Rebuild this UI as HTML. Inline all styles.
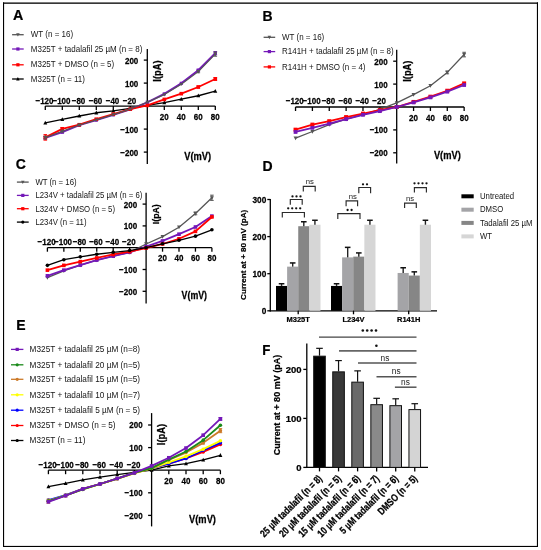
<!DOCTYPE html><html><head><meta charset="utf-8"><style>html,body{margin:0;padding:0;background:#fff;}svg{display:block;will-change:transform;}</style></head><body><svg width="541" height="550" viewBox="0 0 541 550" font-family='"Liberation Sans", sans-serif'>
<rect x="0" y="0" width="541" height="550" fill="#fff"/>
<rect x="3.00" y="2.40" width="535.00" height="1.50" fill="#222"/>
<rect x="3.00" y="2.40" width="1.10" height="544.60" fill="#000"/>
<rect x="536.90" y="2.40" width="1.10" height="544.60" fill="#000"/>
<rect x="3.00" y="545.90" width="535.00" height="1.10" fill="#000"/>
<text transform="translate(12.90 20.20) scale(1 1.06)" font-size="14.3" font-weight="bold" text-anchor="start" fill="#000" stroke="#000" stroke-width="0.22">A</text>
<text transform="translate(262.50 20.80) scale(1 1.08)" font-size="14" font-weight="bold" text-anchor="start" fill="#000" stroke="#000" stroke-width="0.22">B</text>
<text transform="translate(15.70 168.60) scale(1 1.08)" font-size="14" font-weight="bold" text-anchor="start" fill="#000" stroke="#000" stroke-width="0.22">C</text>
<text transform="translate(262.50 170.60) scale(1 1.08)" font-size="14" font-weight="bold" text-anchor="start" fill="#000" stroke="#000" stroke-width="0.22">D</text>
<text transform="translate(16.20 330.00) scale(1 1.08)" font-size="14" font-weight="bold" text-anchor="start" fill="#000" stroke="#000" stroke-width="0.22">E</text>
<text transform="translate(262.30 354.80) scale(1 1.12)" font-size="13.3" font-weight="bold" text-anchor="start" fill="#000" stroke="#000" stroke-width="0.22">F</text>
<line x1="12.10" y1="34.70" x2="23.70" y2="34.70" stroke="#555555" stroke-width="1.3"/>
<path d="M16.14,33.26 L19.66,33.26 L17.90,36.62Z" fill="#555555"/>
<text transform="translate(30.80 37.30) scale(1 1.12)" font-size="8" font-weight="normal" text-anchor="start" fill="#151515">WT (n = 16)</text>
<line x1="12.10" y1="49.00" x2="23.70" y2="49.00" stroke="#7418b8" stroke-width="1.3"/>
<rect x="16.30" y="47.40" width="3.20" height="3.20" fill="#7418b8"/>
<text transform="translate(30.80 51.60) scale(1 1.12)" font-size="8" font-weight="normal" text-anchor="start" fill="#151515">M325T + tadalafil 25 µM (n = 8)</text>
<line x1="12.10" y1="64.80" x2="23.70" y2="64.80" stroke="#ff0000" stroke-width="1.3"/>
<rect x="16.30" y="63.20" width="3.20" height="3.20" fill="#ff0000"/>
<text transform="translate(30.80 67.40) scale(1 1.12)" font-size="8" font-weight="normal" text-anchor="start" fill="#151515">M325T + DMSO (n = 5)</text>
<line x1="12.10" y1="79.00" x2="23.70" y2="79.00" stroke="#000000" stroke-width="1.3"/>
<path d="M16.14,80.44 L19.66,80.44 L17.90,77.08Z" fill="#000000"/>
<text transform="translate(30.80 81.60) scale(1 1.12)" font-size="8" font-weight="normal" text-anchor="start" fill="#151515">M325T (n = 11)</text>
<line x1="147.30" y1="49.00" x2="147.30" y2="164.00" stroke="#000" stroke-width="1.3"/>
<line x1="45.30" y1="106.10" x2="215.30" y2="106.10" stroke="#000" stroke-width="1.3"/>
<line x1="45.30" y1="106.10" x2="45.30" y2="110.10" stroke="#000" stroke-width="1.3"/>
<text transform="translate(44.50 103.50) scale(1 1.2)" font-size="8" font-weight="bold" text-anchor="middle" fill="#000" stroke="#000" stroke-width="0.22">−120</text>
<line x1="62.30" y1="106.10" x2="62.30" y2="110.10" stroke="#000" stroke-width="1.3"/>
<text transform="translate(61.50 103.50) scale(1 1.2)" font-size="8" font-weight="bold" text-anchor="middle" fill="#000" stroke="#000" stroke-width="0.22">−100</text>
<line x1="79.30" y1="106.10" x2="79.30" y2="110.10" stroke="#000" stroke-width="1.3"/>
<text transform="translate(78.50 103.50) scale(1 1.2)" font-size="8" font-weight="bold" text-anchor="middle" fill="#000" stroke="#000" stroke-width="0.22">−80</text>
<line x1="96.30" y1="106.10" x2="96.30" y2="110.10" stroke="#000" stroke-width="1.3"/>
<text transform="translate(95.50 103.50) scale(1 1.2)" font-size="8" font-weight="bold" text-anchor="middle" fill="#000" stroke="#000" stroke-width="0.22">−60</text>
<line x1="113.30" y1="106.10" x2="113.30" y2="110.10" stroke="#000" stroke-width="1.3"/>
<text transform="translate(112.50 103.50) scale(1 1.2)" font-size="8" font-weight="bold" text-anchor="middle" fill="#000" stroke="#000" stroke-width="0.22">−40</text>
<line x1="130.30" y1="106.10" x2="130.30" y2="110.10" stroke="#000" stroke-width="1.3"/>
<text transform="translate(129.50 103.50) scale(1 1.2)" font-size="8" font-weight="bold" text-anchor="middle" fill="#000" stroke="#000" stroke-width="0.22">−20</text>
<line x1="164.30" y1="106.10" x2="164.30" y2="110.10" stroke="#000" stroke-width="1.3"/>
<text transform="translate(164.30 119.80) scale(1 1.2)" font-size="8" font-weight="bold" text-anchor="middle" fill="#000" stroke="#000" stroke-width="0.22">20</text>
<line x1="181.30" y1="106.10" x2="181.30" y2="110.10" stroke="#000" stroke-width="1.3"/>
<text transform="translate(181.30 119.80) scale(1 1.2)" font-size="8" font-weight="bold" text-anchor="middle" fill="#000" stroke="#000" stroke-width="0.22">40</text>
<line x1="198.30" y1="106.10" x2="198.30" y2="110.10" stroke="#000" stroke-width="1.3"/>
<text transform="translate(198.30 119.80) scale(1 1.2)" font-size="8" font-weight="bold" text-anchor="middle" fill="#000" stroke="#000" stroke-width="0.22">60</text>
<line x1="215.30" y1="106.10" x2="215.30" y2="110.10" stroke="#000" stroke-width="1.3"/>
<text transform="translate(215.30 119.80) scale(1 1.2)" font-size="8" font-weight="bold" text-anchor="middle" fill="#000" stroke="#000" stroke-width="0.22">80</text>
<line x1="143.80" y1="60.10" x2="147.30" y2="60.10" stroke="#000" stroke-width="1.3"/>
<text transform="translate(138.30 63.50) scale(1 1.2)" font-size="8" font-weight="bold" text-anchor="end" fill="#000" stroke="#000" stroke-width="0.22">200</text>
<line x1="143.80" y1="83.10" x2="147.30" y2="83.10" stroke="#000" stroke-width="1.3"/>
<text transform="translate(138.30 86.50) scale(1 1.2)" font-size="8" font-weight="bold" text-anchor="end" fill="#000" stroke="#000" stroke-width="0.22">100</text>
<line x1="143.80" y1="129.10" x2="147.30" y2="129.10" stroke="#000" stroke-width="1.3"/>
<text transform="translate(138.30 132.50) scale(1 1.2)" font-size="8" font-weight="bold" text-anchor="end" fill="#000" stroke="#000" stroke-width="0.22">−100</text>
<line x1="143.80" y1="152.10" x2="147.30" y2="152.10" stroke="#000" stroke-width="1.3"/>
<text transform="translate(138.30 155.50) scale(1 1.2)" font-size="8" font-weight="bold" text-anchor="end" fill="#000" stroke="#000" stroke-width="0.22">−200</text>
<text transform="translate(160.50 71.10) rotate(-90) scale(1 1.12)" font-size="9.3" font-weight="bold" text-anchor="middle" fill="#000" stroke="#000" stroke-width="0.22">I(pA)</text>
<text transform="translate(197.70 159.90) scale(1 1.2)" font-size="9.3" font-weight="bold" text-anchor="middle" fill="#000" stroke="#000" stroke-width="0.22">V(mV)</text>
<path d="M45.30,122.89 L62.30,119.44 L79.30,115.99 L96.30,112.77 L113.30,110.93 L130.30,108.40 L147.30,105.41 L164.30,102.65 L181.30,99.20 L198.30,95.75 L215.30,91.15" fill="none" stroke="#000000" stroke-width="1.3" stroke-linejoin="round"/>
<path d="M43.32,124.51 L47.28,124.51 L45.30,120.73Z" fill="#000000"/>
<path d="M60.32,121.06 L64.28,121.06 L62.30,117.28Z" fill="#000000"/>
<path d="M77.32,117.61 L81.28,117.61 L79.30,113.83Z" fill="#000000"/>
<path d="M94.32,114.39 L98.28,114.39 L96.30,110.61Z" fill="#000000"/>
<path d="M111.32,112.55 L115.28,112.55 L113.30,108.77Z" fill="#000000"/>
<path d="M128.32,110.02 L132.28,110.02 L130.30,106.24Z" fill="#000000"/>
<path d="M145.32,107.03 L149.28,107.03 L147.30,103.25Z" fill="#000000"/>
<path d="M162.32,104.27 L166.28,104.27 L164.30,100.49Z" fill="#000000"/>
<path d="M179.32,100.82 L183.28,100.82 L181.30,97.04Z" fill="#000000"/>
<path d="M196.32,97.37 L200.28,97.37 L198.30,93.59Z" fill="#000000"/>
<path d="M213.32,92.77 L217.28,92.77 L215.30,88.99Z" fill="#000000"/>
<path d="M45.30,137.84 L62.30,132.09 L79.30,125.19 L96.30,120.13 L113.30,114.84 L130.30,109.32 L147.30,102.42 L164.30,93.91 L181.30,83.33 L198.30,70.22 L215.30,53.20" fill="none" stroke="#7418b8" stroke-width="1.9" stroke-linejoin="round"/>
<line x1="45.30" y1="136.69" x2="45.30" y2="138.99" stroke="#7418b8" stroke-width="1"/>
<line x1="43.50" y1="136.69" x2="47.10" y2="136.69" stroke="#7418b8" stroke-width="1"/>
<line x1="43.50" y1="138.99" x2="47.10" y2="138.99" stroke="#7418b8" stroke-width="1"/>
<rect x="43.70" y="136.24" width="3.20" height="3.20" fill="#7418b8"/>
<line x1="62.30" y1="131.17" x2="62.30" y2="133.01" stroke="#7418b8" stroke-width="1"/>
<line x1="60.50" y1="131.17" x2="64.10" y2="131.17" stroke="#7418b8" stroke-width="1"/>
<line x1="60.50" y1="133.01" x2="64.10" y2="133.01" stroke="#7418b8" stroke-width="1"/>
<rect x="60.70" y="130.49" width="3.20" height="3.20" fill="#7418b8"/>
<line x1="79.30" y1="124.50" x2="79.30" y2="125.88" stroke="#7418b8" stroke-width="1"/>
<line x1="77.50" y1="124.50" x2="81.10" y2="124.50" stroke="#7418b8" stroke-width="1"/>
<line x1="77.50" y1="125.88" x2="81.10" y2="125.88" stroke="#7418b8" stroke-width="1"/>
<rect x="77.70" y="123.59" width="3.20" height="3.20" fill="#7418b8"/>
<rect x="94.70" y="118.53" width="3.20" height="3.20" fill="#7418b8"/>
<rect x="111.70" y="113.24" width="3.20" height="3.20" fill="#7418b8"/>
<rect x="128.70" y="107.72" width="3.20" height="3.20" fill="#7418b8"/>
<rect x="145.70" y="100.82" width="3.20" height="3.20" fill="#7418b8"/>
<rect x="162.70" y="92.31" width="3.20" height="3.20" fill="#7418b8"/>
<rect x="179.70" y="81.73" width="3.20" height="3.20" fill="#7418b8"/>
<line x1="198.30" y1="69.30" x2="198.30" y2="71.14" stroke="#7418b8" stroke-width="1"/>
<line x1="196.50" y1="69.30" x2="200.10" y2="69.30" stroke="#7418b8" stroke-width="1"/>
<line x1="196.50" y1="71.14" x2="200.10" y2="71.14" stroke="#7418b8" stroke-width="1"/>
<rect x="196.70" y="68.62" width="3.20" height="3.20" fill="#7418b8"/>
<line x1="215.30" y1="51.59" x2="215.30" y2="54.81" stroke="#7418b8" stroke-width="1"/>
<line x1="213.50" y1="51.59" x2="217.10" y2="51.59" stroke="#7418b8" stroke-width="1"/>
<line x1="213.50" y1="54.81" x2="217.10" y2="54.81" stroke="#7418b8" stroke-width="1"/>
<rect x="213.70" y="51.60" width="3.20" height="3.20" fill="#7418b8"/>
<path d="M45.30,137.38 L62.30,128.87 L79.30,124.73 L96.30,119.21 L113.30,114.15 L130.30,109.09 L147.30,105.41 L164.30,99.43 L181.30,93.68 L198.30,87.01 L215.30,78.96" fill="none" stroke="#ff0000" stroke-width="1.8" stroke-linejoin="round"/>
<line x1="45.30" y1="134.62" x2="45.30" y2="140.14" stroke="#ff0000" stroke-width="1"/>
<line x1="43.50" y1="134.62" x2="47.10" y2="134.62" stroke="#ff0000" stroke-width="1"/>
<line x1="43.50" y1="140.14" x2="47.10" y2="140.14" stroke="#ff0000" stroke-width="1"/>
<rect x="43.50" y="135.58" width="3.60" height="3.60" fill="#ff0000"/>
<line x1="62.30" y1="127.49" x2="62.30" y2="130.25" stroke="#ff0000" stroke-width="1"/>
<line x1="60.50" y1="127.49" x2="64.10" y2="127.49" stroke="#ff0000" stroke-width="1"/>
<line x1="60.50" y1="130.25" x2="64.10" y2="130.25" stroke="#ff0000" stroke-width="1"/>
<rect x="60.50" y="127.07" width="3.60" height="3.60" fill="#ff0000"/>
<rect x="77.50" y="122.93" width="3.60" height="3.60" fill="#ff0000"/>
<rect x="94.50" y="117.41" width="3.60" height="3.60" fill="#ff0000"/>
<rect x="111.50" y="112.35" width="3.60" height="3.60" fill="#ff0000"/>
<rect x="128.50" y="107.29" width="3.60" height="3.60" fill="#ff0000"/>
<rect x="145.50" y="103.61" width="3.60" height="3.60" fill="#ff0000"/>
<rect x="162.50" y="97.63" width="3.60" height="3.60" fill="#ff0000"/>
<rect x="179.50" y="91.88" width="3.60" height="3.60" fill="#ff0000"/>
<line x1="198.30" y1="86.09" x2="198.30" y2="87.93" stroke="#ff0000" stroke-width="1"/>
<line x1="196.50" y1="86.09" x2="200.10" y2="86.09" stroke="#ff0000" stroke-width="1"/>
<line x1="196.50" y1="87.93" x2="200.10" y2="87.93" stroke="#ff0000" stroke-width="1"/>
<rect x="196.50" y="85.21" width="3.60" height="3.60" fill="#ff0000"/>
<line x1="215.30" y1="77.58" x2="215.30" y2="80.34" stroke="#ff0000" stroke-width="1"/>
<line x1="213.50" y1="77.58" x2="217.10" y2="77.58" stroke="#ff0000" stroke-width="1"/>
<line x1="213.50" y1="80.34" x2="217.10" y2="80.34" stroke="#ff0000" stroke-width="1"/>
<rect x="213.50" y="77.16" width="3.60" height="3.60" fill="#ff0000"/>
<path d="M45.30,137.61 L62.30,131.17 L79.30,124.96 L96.30,119.90 L113.30,114.61 L130.30,109.09 L147.30,102.19 L164.30,94.60 L181.30,84.25 L198.30,71.60 L215.30,54.12" fill="none" stroke="#555555" stroke-width="1.15" stroke-linejoin="round"/>
<line x1="45.30" y1="136.23" x2="45.30" y2="138.99" stroke="#555555" stroke-width="1"/>
<line x1="43.50" y1="136.23" x2="47.10" y2="136.23" stroke="#555555" stroke-width="1"/>
<line x1="43.50" y1="138.99" x2="47.10" y2="138.99" stroke="#555555" stroke-width="1"/>
<path d="M43.65,136.26 L46.95,136.26 L45.30,139.41Z" fill="#555555"/>
<line x1="62.30" y1="130.25" x2="62.30" y2="132.09" stroke="#555555" stroke-width="1"/>
<line x1="60.50" y1="130.25" x2="64.10" y2="130.25" stroke="#555555" stroke-width="1"/>
<line x1="60.50" y1="132.09" x2="64.10" y2="132.09" stroke="#555555" stroke-width="1"/>
<path d="M60.65,129.82 L63.95,129.82 L62.30,132.97Z" fill="#555555"/>
<line x1="79.30" y1="124.27" x2="79.30" y2="125.65" stroke="#555555" stroke-width="1"/>
<line x1="77.50" y1="124.27" x2="81.10" y2="124.27" stroke="#555555" stroke-width="1"/>
<line x1="77.50" y1="125.65" x2="81.10" y2="125.65" stroke="#555555" stroke-width="1"/>
<path d="M77.65,123.61 L80.95,123.61 L79.30,126.76Z" fill="#555555"/>
<path d="M94.65,118.55 L97.95,118.55 L96.30,121.70Z" fill="#555555"/>
<path d="M111.65,113.26 L114.95,113.26 L113.30,116.41Z" fill="#555555"/>
<path d="M128.65,107.74 L131.95,107.74 L130.30,110.89Z" fill="#555555"/>
<path d="M145.65,100.84 L148.95,100.84 L147.30,103.99Z" fill="#555555"/>
<path d="M162.65,93.25 L165.95,93.25 L164.30,96.40Z" fill="#555555"/>
<path d="M179.65,82.90 L182.95,82.90 L181.30,86.05Z" fill="#555555"/>
<line x1="198.30" y1="70.45" x2="198.30" y2="72.75" stroke="#555555" stroke-width="1"/>
<line x1="196.50" y1="70.45" x2="200.10" y2="70.45" stroke="#555555" stroke-width="1"/>
<line x1="196.50" y1="72.75" x2="200.10" y2="72.75" stroke="#555555" stroke-width="1"/>
<path d="M196.65,70.25 L199.95,70.25 L198.30,73.40Z" fill="#555555"/>
<line x1="215.30" y1="52.05" x2="215.30" y2="56.19" stroke="#555555" stroke-width="1"/>
<line x1="213.50" y1="52.05" x2="217.10" y2="52.05" stroke="#555555" stroke-width="1"/>
<line x1="213.50" y1="56.19" x2="217.10" y2="56.19" stroke="#555555" stroke-width="1"/>
<path d="M213.65,52.77 L216.95,52.77 L215.30,55.92Z" fill="#555555"/>
<line x1="263.60" y1="37.30" x2="275.20" y2="37.30" stroke="#555555" stroke-width="1.3"/>
<path d="M267.64,35.86 L271.16,35.86 L269.40,39.22Z" fill="#555555"/>
<text transform="translate(282.00 39.90) scale(1 1.12)" font-size="8" font-weight="normal" text-anchor="start" fill="#151515">WT (n = 16)</text>
<line x1="263.60" y1="51.60" x2="275.20" y2="51.60" stroke="#7418b8" stroke-width="1.3"/>
<rect x="267.80" y="50.00" width="3.20" height="3.20" fill="#7418b8"/>
<text transform="translate(282.00 54.20) scale(1 1.12)" font-size="8" font-weight="normal" text-anchor="start" fill="#151515">R141H + tadalafil 25 µM (n = 8)</text>
<line x1="263.60" y1="66.90" x2="275.20" y2="66.90" stroke="#ff0000" stroke-width="1.3"/>
<rect x="267.80" y="65.30" width="3.20" height="3.20" fill="#ff0000"/>
<text transform="translate(282.00 69.50) scale(1 1.12)" font-size="8" font-weight="normal" text-anchor="start" fill="#151515">R141H + DMSO (n = 4)</text>
<line x1="396.70" y1="49.80" x2="396.70" y2="163.60" stroke="#000" stroke-width="1.3"/>
<line x1="295.54" y1="107.00" x2="464.14" y2="107.00" stroke="#000" stroke-width="1.3"/>
<line x1="295.54" y1="107.00" x2="295.54" y2="111.00" stroke="#000" stroke-width="1.3"/>
<text transform="translate(294.74 104.40) scale(1 1.2)" font-size="8" font-weight="bold" text-anchor="middle" fill="#000" stroke="#000" stroke-width="0.22">−120</text>
<line x1="312.40" y1="107.00" x2="312.40" y2="111.00" stroke="#000" stroke-width="1.3"/>
<text transform="translate(311.60 104.40) scale(1 1.2)" font-size="8" font-weight="bold" text-anchor="middle" fill="#000" stroke="#000" stroke-width="0.22">−100</text>
<line x1="329.26" y1="107.00" x2="329.26" y2="111.00" stroke="#000" stroke-width="1.3"/>
<text transform="translate(328.46 104.40) scale(1 1.2)" font-size="8" font-weight="bold" text-anchor="middle" fill="#000" stroke="#000" stroke-width="0.22">−80</text>
<line x1="346.12" y1="107.00" x2="346.12" y2="111.00" stroke="#000" stroke-width="1.3"/>
<text transform="translate(345.32 104.40) scale(1 1.2)" font-size="8" font-weight="bold" text-anchor="middle" fill="#000" stroke="#000" stroke-width="0.22">−60</text>
<line x1="362.98" y1="107.00" x2="362.98" y2="111.00" stroke="#000" stroke-width="1.3"/>
<text transform="translate(362.18 104.40) scale(1 1.2)" font-size="8" font-weight="bold" text-anchor="middle" fill="#000" stroke="#000" stroke-width="0.22">−40</text>
<line x1="379.84" y1="107.00" x2="379.84" y2="111.00" stroke="#000" stroke-width="1.3"/>
<text transform="translate(379.04 104.40) scale(1 1.2)" font-size="8" font-weight="bold" text-anchor="middle" fill="#000" stroke="#000" stroke-width="0.22">−20</text>
<line x1="413.56" y1="107.00" x2="413.56" y2="111.00" stroke="#000" stroke-width="1.3"/>
<text transform="translate(413.56 120.70) scale(1 1.2)" font-size="8" font-weight="bold" text-anchor="middle" fill="#000" stroke="#000" stroke-width="0.22">20</text>
<line x1="430.42" y1="107.00" x2="430.42" y2="111.00" stroke="#000" stroke-width="1.3"/>
<text transform="translate(430.42 120.70) scale(1 1.2)" font-size="8" font-weight="bold" text-anchor="middle" fill="#000" stroke="#000" stroke-width="0.22">40</text>
<line x1="447.28" y1="107.00" x2="447.28" y2="111.00" stroke="#000" stroke-width="1.3"/>
<text transform="translate(447.28 120.70) scale(1 1.2)" font-size="8" font-weight="bold" text-anchor="middle" fill="#000" stroke="#000" stroke-width="0.22">60</text>
<line x1="464.14" y1="107.00" x2="464.14" y2="111.00" stroke="#000" stroke-width="1.3"/>
<text transform="translate(464.14 120.70) scale(1 1.2)" font-size="8" font-weight="bold" text-anchor="middle" fill="#000" stroke="#000" stroke-width="0.22">80</text>
<line x1="393.20" y1="61.20" x2="396.70" y2="61.20" stroke="#000" stroke-width="1.3"/>
<text transform="translate(387.70 64.60) scale(1 1.2)" font-size="8" font-weight="bold" text-anchor="end" fill="#000" stroke="#000" stroke-width="0.22">200</text>
<line x1="393.20" y1="84.10" x2="396.70" y2="84.10" stroke="#000" stroke-width="1.3"/>
<text transform="translate(387.70 87.50) scale(1 1.2)" font-size="8" font-weight="bold" text-anchor="end" fill="#000" stroke="#000" stroke-width="0.22">100</text>
<line x1="393.20" y1="129.90" x2="396.70" y2="129.90" stroke="#000" stroke-width="1.3"/>
<text transform="translate(387.70 133.30) scale(1 1.2)" font-size="8" font-weight="bold" text-anchor="end" fill="#000" stroke="#000" stroke-width="0.22">−100</text>
<line x1="393.20" y1="152.80" x2="396.70" y2="152.80" stroke="#000" stroke-width="1.3"/>
<text transform="translate(387.70 156.20) scale(1 1.2)" font-size="8" font-weight="bold" text-anchor="end" fill="#000" stroke="#000" stroke-width="0.22">−200</text>
<text transform="translate(411.30 71.20) rotate(-90) scale(1 1.12)" font-size="9.3" font-weight="bold" text-anchor="middle" fill="#000" stroke="#000" stroke-width="0.22">I(pA)</text>
<text transform="translate(447.30 159.10) scale(1 1.2)" font-size="9.3" font-weight="bold" text-anchor="middle" fill="#000" stroke="#000" stroke-width="0.22">V(mV)</text>
<path d="M295.54,138.14 L312.40,131.50 L329.26,124.63 L346.12,119.14 L362.98,114.56 L379.84,109.29 L396.70,102.88 L413.56,94.63 L430.42,85.70 L447.28,72.42 L464.14,54.56" fill="none" stroke="#555555" stroke-width="1.3" stroke-linejoin="round"/>
<path d="M293.56,136.52 L297.52,136.52 L295.54,140.30Z" fill="#555555"/>
<path d="M310.42,129.88 L314.38,129.88 L312.40,133.66Z" fill="#555555"/>
<path d="M327.28,123.01 L331.24,123.01 L329.26,126.79Z" fill="#555555"/>
<path d="M344.14,117.52 L348.10,117.52 L346.12,121.30Z" fill="#555555"/>
<path d="M361.00,112.94 L364.96,112.94 L362.98,116.72Z" fill="#555555"/>
<path d="M377.86,107.67 L381.82,107.67 L379.84,111.45Z" fill="#555555"/>
<path d="M394.72,101.26 L398.68,101.26 L396.70,105.04Z" fill="#555555"/>
<path d="M411.58,93.01 L415.54,93.01 L413.56,96.79Z" fill="#555555"/>
<path d="M428.44,84.08 L432.40,84.08 L430.42,87.86Z" fill="#555555"/>
<line x1="447.28" y1="71.05" x2="447.28" y2="73.79" stroke="#555555" stroke-width="1"/>
<line x1="445.48" y1="71.05" x2="449.08" y2="71.05" stroke="#555555" stroke-width="1"/>
<line x1="445.48" y1="73.79" x2="449.08" y2="73.79" stroke="#555555" stroke-width="1"/>
<path d="M445.30,70.80 L449.26,70.80 L447.28,74.58Z" fill="#555555"/>
<line x1="464.14" y1="52.27" x2="464.14" y2="56.85" stroke="#555555" stroke-width="1"/>
<line x1="462.34" y1="52.27" x2="465.94" y2="52.27" stroke="#555555" stroke-width="1"/>
<line x1="462.34" y1="56.85" x2="465.94" y2="56.85" stroke="#555555" stroke-width="1"/>
<path d="M462.16,52.94 L466.12,52.94 L464.14,56.72Z" fill="#555555"/>
<path d="M295.54,129.67 L312.40,124.63 L329.26,121.20 L346.12,117.08 L362.98,113.64 L379.84,110.21 L396.70,107.00 L413.56,101.96 L430.42,96.69 L447.28,90.74 L464.14,83.41" fill="none" stroke="#ff0000" stroke-width="1.8" stroke-linejoin="round"/>
<rect x="293.54" y="127.67" width="4.00" height="4.00" fill="#ff0000"/>
<rect x="310.40" y="122.63" width="4.00" height="4.00" fill="#ff0000"/>
<rect x="327.26" y="119.20" width="4.00" height="4.00" fill="#ff0000"/>
<rect x="344.12" y="115.08" width="4.00" height="4.00" fill="#ff0000"/>
<rect x="360.98" y="111.64" width="4.00" height="4.00" fill="#ff0000"/>
<rect x="377.84" y="108.21" width="4.00" height="4.00" fill="#ff0000"/>
<rect x="394.70" y="105.00" width="4.00" height="4.00" fill="#ff0000"/>
<rect x="411.56" y="99.96" width="4.00" height="4.00" fill="#ff0000"/>
<rect x="428.42" y="94.69" width="4.00" height="4.00" fill="#ff0000"/>
<rect x="445.28" y="88.74" width="4.00" height="4.00" fill="#ff0000"/>
<rect x="462.14" y="81.41" width="4.00" height="4.00" fill="#ff0000"/>
<path d="M295.54,131.96 L312.40,127.84 L329.26,123.72 L346.12,119.14 L362.98,114.79 L379.84,111.12 L396.70,107.00 L413.56,102.42 L430.42,97.38 L447.28,91.66 L464.14,85.02" fill="none" stroke="#7418b8" stroke-width="1.8" stroke-linejoin="round"/>
<rect x="293.64" y="130.06" width="3.80" height="3.80" fill="#7418b8"/>
<rect x="310.50" y="125.94" width="3.80" height="3.80" fill="#7418b8"/>
<rect x="327.36" y="121.82" width="3.80" height="3.80" fill="#7418b8"/>
<rect x="344.22" y="117.24" width="3.80" height="3.80" fill="#7418b8"/>
<rect x="361.08" y="112.89" width="3.80" height="3.80" fill="#7418b8"/>
<rect x="377.94" y="109.22" width="3.80" height="3.80" fill="#7418b8"/>
<rect x="394.80" y="105.10" width="3.80" height="3.80" fill="#7418b8"/>
<rect x="411.66" y="100.52" width="3.80" height="3.80" fill="#7418b8"/>
<rect x="428.52" y="95.48" width="3.80" height="3.80" fill="#7418b8"/>
<rect x="445.38" y="89.76" width="3.80" height="3.80" fill="#7418b8"/>
<rect x="462.24" y="83.12" width="3.80" height="3.80" fill="#7418b8"/>
<line x1="16.90" y1="182.10" x2="28.70" y2="182.10" stroke="#555555" stroke-width="1.3"/>
<path d="M21.04,180.66 L24.56,180.66 L22.80,184.02Z" fill="#555555"/>
<text transform="translate(35.40 185.00) scale(1 1.12)" font-size="7.8" font-weight="normal" text-anchor="start" fill="#151515">WT (n = 16)</text>
<line x1="16.90" y1="195.40" x2="28.70" y2="195.40" stroke="#7418b8" stroke-width="1.3"/>
<rect x="21.20" y="193.80" width="3.20" height="3.20" fill="#7418b8"/>
<text transform="translate(35.40 198.30) scale(1 1.12)" font-size="7.8" font-weight="normal" text-anchor="start" fill="#151515">L234V + tadalafil 25 µM (n = 6)</text>
<line x1="16.90" y1="208.70" x2="28.70" y2="208.70" stroke="#ff0000" stroke-width="1.3"/>
<rect x="21.20" y="207.10" width="3.20" height="3.20" fill="#ff0000"/>
<text transform="translate(35.40 211.60) scale(1 1.12)" font-size="7.8" font-weight="normal" text-anchor="start" fill="#151515">L324V + DMSO (n = 5)</text>
<line x1="16.90" y1="222.10" x2="28.70" y2="222.10" stroke="#000000" stroke-width="1.3"/>
<circle cx="22.80" cy="222.10" r="1.60" fill="#000000"/>
<text transform="translate(35.40 225.00) scale(1 1.12)" font-size="7.8" font-weight="normal" text-anchor="start" fill="#151515">L234V (n = 11)</text>
<line x1="146.10" y1="192.70" x2="146.10" y2="303.50" stroke="#000" stroke-width="1.3"/>
<line x1="47.40" y1="247.70" x2="211.90" y2="247.70" stroke="#000" stroke-width="1.3"/>
<line x1="47.40" y1="247.70" x2="47.40" y2="251.70" stroke="#000" stroke-width="1.3"/>
<text transform="translate(46.60 245.10) scale(1 1.2)" font-size="8" font-weight="bold" text-anchor="middle" fill="#000" stroke="#000" stroke-width="0.22">−120</text>
<line x1="63.85" y1="247.70" x2="63.85" y2="251.70" stroke="#000" stroke-width="1.3"/>
<text transform="translate(63.05 245.10) scale(1 1.2)" font-size="8" font-weight="bold" text-anchor="middle" fill="#000" stroke="#000" stroke-width="0.22">−100</text>
<line x1="80.30" y1="247.70" x2="80.30" y2="251.70" stroke="#000" stroke-width="1.3"/>
<text transform="translate(79.50 245.10) scale(1 1.2)" font-size="8" font-weight="bold" text-anchor="middle" fill="#000" stroke="#000" stroke-width="0.22">−80</text>
<line x1="96.75" y1="247.70" x2="96.75" y2="251.70" stroke="#000" stroke-width="1.3"/>
<text transform="translate(95.95 245.10) scale(1 1.2)" font-size="8" font-weight="bold" text-anchor="middle" fill="#000" stroke="#000" stroke-width="0.22">−60</text>
<line x1="113.20" y1="247.70" x2="113.20" y2="251.70" stroke="#000" stroke-width="1.3"/>
<text transform="translate(112.40 245.10) scale(1 1.2)" font-size="8" font-weight="bold" text-anchor="middle" fill="#000" stroke="#000" stroke-width="0.22">−40</text>
<line x1="129.65" y1="247.70" x2="129.65" y2="251.70" stroke="#000" stroke-width="1.3"/>
<text transform="translate(128.85 245.10) scale(1 1.2)" font-size="8" font-weight="bold" text-anchor="middle" fill="#000" stroke="#000" stroke-width="0.22">−20</text>
<line x1="162.55" y1="247.70" x2="162.55" y2="251.70" stroke="#000" stroke-width="1.3"/>
<text transform="translate(162.55 261.40) scale(1 1.2)" font-size="8" font-weight="bold" text-anchor="middle" fill="#000" stroke="#000" stroke-width="0.22">20</text>
<line x1="179.00" y1="247.70" x2="179.00" y2="251.70" stroke="#000" stroke-width="1.3"/>
<text transform="translate(179.00 261.40) scale(1 1.2)" font-size="8" font-weight="bold" text-anchor="middle" fill="#000" stroke="#000" stroke-width="0.22">40</text>
<line x1="195.45" y1="247.70" x2="195.45" y2="251.70" stroke="#000" stroke-width="1.3"/>
<text transform="translate(195.45 261.40) scale(1 1.2)" font-size="8" font-weight="bold" text-anchor="middle" fill="#000" stroke="#000" stroke-width="0.22">60</text>
<line x1="211.90" y1="247.70" x2="211.90" y2="251.70" stroke="#000" stroke-width="1.3"/>
<text transform="translate(211.90 261.40) scale(1 1.2)" font-size="8" font-weight="bold" text-anchor="middle" fill="#000" stroke="#000" stroke-width="0.22">80</text>
<line x1="142.60" y1="204.10" x2="146.10" y2="204.10" stroke="#000" stroke-width="1.3"/>
<text transform="translate(137.10 207.50) scale(1 1.2)" font-size="8" font-weight="bold" text-anchor="end" fill="#000" stroke="#000" stroke-width="0.22">200</text>
<line x1="142.60" y1="225.90" x2="146.10" y2="225.90" stroke="#000" stroke-width="1.3"/>
<text transform="translate(137.10 229.30) scale(1 1.2)" font-size="8" font-weight="bold" text-anchor="end" fill="#000" stroke="#000" stroke-width="0.22">100</text>
<line x1="142.60" y1="269.50" x2="146.10" y2="269.50" stroke="#000" stroke-width="1.3"/>
<text transform="translate(137.10 272.90) scale(1 1.2)" font-size="8" font-weight="bold" text-anchor="end" fill="#000" stroke="#000" stroke-width="0.22">−100</text>
<line x1="142.60" y1="291.30" x2="146.10" y2="291.30" stroke="#000" stroke-width="1.3"/>
<text transform="translate(137.10 294.70) scale(1 1.2)" font-size="8" font-weight="bold" text-anchor="end" fill="#000" stroke="#000" stroke-width="0.22">−200</text>
<text transform="translate(158.80 214.20) rotate(-90) scale(1 1.12)" font-size="8.8" font-weight="bold" text-anchor="middle" fill="#000" stroke="#000" stroke-width="0.22">I(pA)</text>
<text transform="translate(194.30 299.10) scale(1 1.2)" font-size="8.8" font-weight="bold" text-anchor="middle" fill="#000" stroke="#000" stroke-width="0.22">V(mV)</text>
<path d="M47.40,277.57 L63.85,270.81 L80.30,265.14 L96.75,260.13 L113.20,256.20 L129.65,252.28 L146.10,243.99 L162.55,236.58 L179.00,227.21 L195.45,213.47 L211.90,197.78" fill="none" stroke="#555555" stroke-width="1.3" stroke-linejoin="round"/>
<path d="M45.42,275.95 L49.38,275.95 L47.40,279.73Z" fill="#555555"/>
<path d="M61.87,269.19 L65.83,269.19 L63.85,272.97Z" fill="#555555"/>
<path d="M78.32,263.52 L82.28,263.52 L80.30,267.30Z" fill="#555555"/>
<path d="M94.77,258.51 L98.73,258.51 L96.75,262.29Z" fill="#555555"/>
<path d="M111.22,254.58 L115.18,254.58 L113.20,258.36Z" fill="#555555"/>
<path d="M127.67,250.66 L131.63,250.66 L129.65,254.44Z" fill="#555555"/>
<path d="M144.12,242.37 L148.08,242.37 L146.10,246.15Z" fill="#555555"/>
<path d="M160.57,234.96 L164.53,234.96 L162.55,238.74Z" fill="#555555"/>
<path d="M177.02,225.59 L180.98,225.59 L179.00,229.37Z" fill="#555555"/>
<line x1="195.45" y1="212.17" x2="195.45" y2="214.78" stroke="#555555" stroke-width="1"/>
<line x1="193.65" y1="212.17" x2="197.25" y2="212.17" stroke="#555555" stroke-width="1"/>
<line x1="193.65" y1="214.78" x2="197.25" y2="214.78" stroke="#555555" stroke-width="1"/>
<path d="M193.47,211.85 L197.43,211.85 L195.45,215.63Z" fill="#555555"/>
<line x1="211.90" y1="195.16" x2="211.90" y2="200.39" stroke="#555555" stroke-width="1"/>
<line x1="210.10" y1="195.16" x2="213.70" y2="195.16" stroke="#555555" stroke-width="1"/>
<line x1="210.10" y1="200.39" x2="213.70" y2="200.39" stroke="#555555" stroke-width="1"/>
<path d="M209.92,196.16 L213.88,196.16 L211.90,199.94Z" fill="#555555"/>
<path d="M47.40,275.82 L63.85,270.15 L80.30,265.14 L96.75,260.13 L113.20,256.20 L129.65,252.28 L146.10,246.61 L162.55,240.94 L179.00,234.18 L195.45,226.99 L211.90,216.09" fill="none" stroke="#7418b8" stroke-width="1.8" stroke-linejoin="round"/>
<rect x="45.60" y="274.02" width="3.60" height="3.60" fill="#7418b8"/>
<rect x="62.05" y="268.35" width="3.60" height="3.60" fill="#7418b8"/>
<rect x="78.50" y="263.34" width="3.60" height="3.60" fill="#7418b8"/>
<rect x="94.95" y="258.33" width="3.60" height="3.60" fill="#7418b8"/>
<rect x="111.40" y="254.40" width="3.60" height="3.60" fill="#7418b8"/>
<rect x="127.85" y="250.48" width="3.60" height="3.60" fill="#7418b8"/>
<rect x="144.30" y="244.81" width="3.60" height="3.60" fill="#7418b8"/>
<rect x="160.75" y="239.14" width="3.60" height="3.60" fill="#7418b8"/>
<rect x="177.20" y="232.38" width="3.60" height="3.60" fill="#7418b8"/>
<rect x="193.65" y="225.19" width="3.60" height="3.60" fill="#7418b8"/>
<rect x="210.10" y="214.29" width="3.60" height="3.60" fill="#7418b8"/>
<path d="M47.40,270.15 L63.85,265.36 L80.30,261.65 L96.75,257.95 L113.20,254.46 L129.65,251.62 L146.10,248.14 L162.55,243.99 L179.00,238.76 L195.45,231.35 L211.90,216.96" fill="none" stroke="#ff0000" stroke-width="1.8" stroke-linejoin="round"/>
<rect x="45.60" y="268.35" width="3.60" height="3.60" fill="#ff0000"/>
<rect x="62.05" y="263.56" width="3.60" height="3.60" fill="#ff0000"/>
<rect x="78.50" y="259.85" width="3.60" height="3.60" fill="#ff0000"/>
<rect x="94.95" y="256.15" width="3.60" height="3.60" fill="#ff0000"/>
<rect x="111.40" y="252.66" width="3.60" height="3.60" fill="#ff0000"/>
<rect x="127.85" y="249.82" width="3.60" height="3.60" fill="#ff0000"/>
<rect x="144.30" y="246.34" width="3.60" height="3.60" fill="#ff0000"/>
<rect x="160.75" y="242.19" width="3.60" height="3.60" fill="#ff0000"/>
<rect x="177.20" y="236.96" width="3.60" height="3.60" fill="#ff0000"/>
<rect x="193.65" y="229.55" width="3.60" height="3.60" fill="#ff0000"/>
<rect x="210.10" y="215.16" width="3.60" height="3.60" fill="#ff0000"/>
<path d="M47.40,265.36 L63.85,259.69 L80.30,256.86 L96.75,254.24 L113.20,252.28 L129.65,250.53 L146.10,247.70 L162.55,243.78 L179.00,240.29 L195.45,236.15 L211.90,229.82" fill="none" stroke="#000000" stroke-width="1.3" stroke-linejoin="round"/>
<circle cx="47.40" cy="265.36" r="1.80" fill="#000000"/>
<circle cx="63.85" cy="259.69" r="1.80" fill="#000000"/>
<circle cx="80.30" cy="256.86" r="1.80" fill="#000000"/>
<circle cx="96.75" cy="254.24" r="1.80" fill="#000000"/>
<circle cx="113.20" cy="252.28" r="1.80" fill="#000000"/>
<circle cx="129.65" cy="250.53" r="1.80" fill="#000000"/>
<circle cx="146.10" cy="247.70" r="1.80" fill="#000000"/>
<circle cx="162.55" cy="243.78" r="1.80" fill="#000000"/>
<circle cx="179.00" cy="240.29" r="1.80" fill="#000000"/>
<circle cx="195.45" cy="236.15" r="1.80" fill="#000000"/>
<circle cx="211.90" cy="229.82" r="1.80" fill="#000000"/>
<line x1="11.00" y1="349.40" x2="23.40" y2="349.40" stroke="#7418b8" stroke-width="1.3"/>
<rect x="15.60" y="347.80" width="3.20" height="3.20" fill="#7418b8"/>
<text transform="translate(29.60 352.10) scale(1 1.12)" font-size="8.25" font-weight="normal" text-anchor="start" fill="#151515">M325T + tadalafil 25 µM (n=8)</text>
<line x1="11.00" y1="364.80" x2="23.40" y2="364.80" stroke="#1a8a1a" stroke-width="1.3"/>
<circle cx="17.20" cy="364.80" r="1.60" fill="#1a8a1a"/>
<text transform="translate(29.60 367.50) scale(1 1.12)" font-size="8.25" font-weight="normal" text-anchor="start" fill="#151515">M325T + tadalafil 20 µM (n=5)</text>
<line x1="11.00" y1="379.30" x2="23.40" y2="379.30" stroke="#cc7a29" stroke-width="1.3"/>
<circle cx="17.20" cy="379.30" r="1.60" fill="#cc7a29"/>
<text transform="translate(29.60 382.00) scale(1 1.12)" font-size="8.25" font-weight="normal" text-anchor="start" fill="#151515">M325T + tadalafil 15 µM (n=5)</text>
<line x1="11.00" y1="394.80" x2="23.40" y2="394.80" stroke="#ffff00" stroke-width="1.3"/>
<circle cx="17.20" cy="394.80" r="1.60" fill="#ffff00"/>
<text transform="translate(29.60 397.50) scale(1 1.12)" font-size="8.25" font-weight="normal" text-anchor="start" fill="#151515">M325T + tadalafil 10 µM (n=7)</text>
<line x1="11.00" y1="410.20" x2="23.40" y2="410.20" stroke="#0000ff" stroke-width="1.3"/>
<circle cx="17.20" cy="410.20" r="1.60" fill="#0000ff"/>
<text transform="translate(29.60 412.90) scale(1 1.12)" font-size="8.25" font-weight="normal" text-anchor="start" fill="#151515">M325T + tadalafil 5 µM (n = 5)</text>
<line x1="11.00" y1="425.50" x2="23.40" y2="425.50" stroke="#ff0000" stroke-width="1.3"/>
<circle cx="17.20" cy="425.50" r="1.60" fill="#ff0000"/>
<text transform="translate(29.60 428.20) scale(1 1.12)" font-size="8.25" font-weight="normal" text-anchor="start" fill="#151515">M325T + DMSO (n = 5)</text>
<line x1="11.00" y1="440.50" x2="23.40" y2="440.50" stroke="#000000" stroke-width="1.3"/>
<circle cx="17.20" cy="440.50" r="1.60" fill="#000000"/>
<text transform="translate(29.60 443.20) scale(1 1.12)" font-size="8.25" font-weight="normal" text-anchor="start" fill="#151515">M325T (n = 11)</text>
<line x1="151.60" y1="413.10" x2="151.60" y2="526.40" stroke="#000" stroke-width="1.3"/>
<line x1="48.40" y1="470.20" x2="220.40" y2="470.20" stroke="#000" stroke-width="1.3"/>
<line x1="48.40" y1="470.20" x2="48.40" y2="474.20" stroke="#000" stroke-width="1.3"/>
<text transform="translate(47.60 467.60) scale(1 1.2)" font-size="8" font-weight="bold" text-anchor="middle" fill="#000" stroke="#000" stroke-width="0.22">−120</text>
<line x1="65.60" y1="470.20" x2="65.60" y2="474.20" stroke="#000" stroke-width="1.3"/>
<text transform="translate(64.80 467.60) scale(1 1.2)" font-size="8" font-weight="bold" text-anchor="middle" fill="#000" stroke="#000" stroke-width="0.22">−100</text>
<line x1="82.80" y1="470.20" x2="82.80" y2="474.20" stroke="#000" stroke-width="1.3"/>
<text transform="translate(82.00 467.60) scale(1 1.2)" font-size="8" font-weight="bold" text-anchor="middle" fill="#000" stroke="#000" stroke-width="0.22">−80</text>
<line x1="100.00" y1="470.20" x2="100.00" y2="474.20" stroke="#000" stroke-width="1.3"/>
<text transform="translate(99.20 467.60) scale(1 1.2)" font-size="8" font-weight="bold" text-anchor="middle" fill="#000" stroke="#000" stroke-width="0.22">−60</text>
<line x1="117.20" y1="470.20" x2="117.20" y2="474.20" stroke="#000" stroke-width="1.3"/>
<text transform="translate(116.40 467.60) scale(1 1.2)" font-size="8" font-weight="bold" text-anchor="middle" fill="#000" stroke="#000" stroke-width="0.22">−40</text>
<line x1="134.40" y1="470.20" x2="134.40" y2="474.20" stroke="#000" stroke-width="1.3"/>
<text transform="translate(133.60 467.60) scale(1 1.2)" font-size="8" font-weight="bold" text-anchor="middle" fill="#000" stroke="#000" stroke-width="0.22">−20</text>
<line x1="168.80" y1="470.20" x2="168.80" y2="474.20" stroke="#000" stroke-width="1.3"/>
<text transform="translate(168.80 483.90) scale(1 1.2)" font-size="8" font-weight="bold" text-anchor="middle" fill="#000" stroke="#000" stroke-width="0.22">20</text>
<line x1="186.00" y1="470.20" x2="186.00" y2="474.20" stroke="#000" stroke-width="1.3"/>
<text transform="translate(186.00 483.90) scale(1 1.2)" font-size="8" font-weight="bold" text-anchor="middle" fill="#000" stroke="#000" stroke-width="0.22">40</text>
<line x1="203.20" y1="470.20" x2="203.20" y2="474.20" stroke="#000" stroke-width="1.3"/>
<text transform="translate(203.20 483.90) scale(1 1.2)" font-size="8" font-weight="bold" text-anchor="middle" fill="#000" stroke="#000" stroke-width="0.22">60</text>
<line x1="220.40" y1="470.20" x2="220.40" y2="474.20" stroke="#000" stroke-width="1.3"/>
<text transform="translate(220.40 483.90) scale(1 1.2)" font-size="8" font-weight="bold" text-anchor="middle" fill="#000" stroke="#000" stroke-width="0.22">80</text>
<line x1="148.10" y1="425.00" x2="151.60" y2="425.00" stroke="#000" stroke-width="1.3"/>
<text transform="translate(142.60 428.40) scale(1 1.2)" font-size="8" font-weight="bold" text-anchor="end" fill="#000" stroke="#000" stroke-width="0.22">200</text>
<line x1="148.10" y1="447.60" x2="151.60" y2="447.60" stroke="#000" stroke-width="1.3"/>
<text transform="translate(142.60 451.00) scale(1 1.2)" font-size="8" font-weight="bold" text-anchor="end" fill="#000" stroke="#000" stroke-width="0.22">100</text>
<line x1="148.10" y1="492.80" x2="151.60" y2="492.80" stroke="#000" stroke-width="1.3"/>
<text transform="translate(142.60 496.20) scale(1 1.2)" font-size="8" font-weight="bold" text-anchor="end" fill="#000" stroke="#000" stroke-width="0.22">−100</text>
<line x1="148.10" y1="515.40" x2="151.60" y2="515.40" stroke="#000" stroke-width="1.3"/>
<text transform="translate(142.60 518.80) scale(1 1.2)" font-size="8" font-weight="bold" text-anchor="end" fill="#000" stroke="#000" stroke-width="0.22">−200</text>
<text transform="translate(165.00 434.60) rotate(-90) scale(1 1.12)" font-size="9.3" font-weight="bold" text-anchor="middle" fill="#000" stroke="#000" stroke-width="0.22">I(pA)</text>
<text transform="translate(202.50 523.20) scale(1 1.2)" font-size="9.3" font-weight="bold" text-anchor="middle" fill="#000" stroke="#000" stroke-width="0.22">V(mV)</text>
<path d="M48.40,486.70 L65.60,483.31 L82.80,479.92 L100.00,477.21 L117.20,474.72 L134.40,472.46 L151.60,470.20 L168.80,465.91 L186.00,463.65 L203.20,459.80 L220.40,455.28" fill="none" stroke="#000000" stroke-width="1.3" stroke-linejoin="round"/>
<path d="M46.42,488.32 L50.38,488.32 L48.40,484.54Z" fill="#000000"/>
<path d="M63.62,484.93 L67.58,484.93 L65.60,481.15Z" fill="#000000"/>
<path d="M80.82,481.54 L84.78,481.54 L82.80,477.76Z" fill="#000000"/>
<path d="M98.02,478.83 L101.98,478.83 L100.00,475.05Z" fill="#000000"/>
<path d="M115.22,476.34 L119.18,476.34 L117.20,472.56Z" fill="#000000"/>
<path d="M132.42,474.08 L136.38,474.08 L134.40,470.30Z" fill="#000000"/>
<path d="M149.62,471.82 L153.58,471.82 L151.60,468.04Z" fill="#000000"/>
<path d="M166.82,467.53 L170.78,467.53 L168.80,463.75Z" fill="#000000"/>
<path d="M184.02,465.27 L187.98,465.27 L186.00,461.49Z" fill="#000000"/>
<path d="M201.22,461.42 L205.18,461.42 L203.20,457.64Z" fill="#000000"/>
<path d="M218.42,456.90 L222.38,456.90 L220.40,453.12Z" fill="#000000"/>
<path d="M48.40,501.16 L65.60,495.51 L82.80,488.96 L100.00,483.99 L117.20,478.56 L134.40,472.91 L151.60,468.17 L168.80,463.65 L186.00,458.45 L203.20,451.89 L220.40,444.44" fill="none" stroke="#ff0000" stroke-width="1.8" stroke-linejoin="round"/>
<circle cx="48.40" cy="501.16" r="1.80" fill="#ff0000"/>
<circle cx="65.60" cy="495.51" r="1.80" fill="#ff0000"/>
<circle cx="82.80" cy="488.96" r="1.80" fill="#ff0000"/>
<circle cx="100.00" cy="483.99" r="1.80" fill="#ff0000"/>
<circle cx="117.20" cy="478.56" r="1.80" fill="#ff0000"/>
<circle cx="134.40" cy="472.91" r="1.80" fill="#ff0000"/>
<circle cx="151.60" cy="468.17" r="1.80" fill="#ff0000"/>
<circle cx="168.80" cy="463.65" r="1.80" fill="#ff0000"/>
<circle cx="186.00" cy="458.45" r="1.80" fill="#ff0000"/>
<circle cx="203.20" cy="451.89" r="1.80" fill="#ff0000"/>
<circle cx="220.40" cy="444.44" r="1.80" fill="#ff0000"/>
<path d="M48.40,500.03 L65.60,495.06 L82.80,488.96 L100.00,483.99 L117.20,478.56 L134.40,472.91 L151.60,468.17 L168.80,463.65 L186.00,458.45 L203.20,450.31 L220.40,442.85" fill="none" stroke="#0000ff" stroke-width="1.8" stroke-linejoin="round"/>
<circle cx="48.40" cy="500.03" r="1.80" fill="#0000ff"/>
<circle cx="65.60" cy="495.06" r="1.80" fill="#0000ff"/>
<circle cx="82.80" cy="488.96" r="1.80" fill="#0000ff"/>
<circle cx="100.00" cy="483.99" r="1.80" fill="#0000ff"/>
<circle cx="117.20" cy="478.56" r="1.80" fill="#0000ff"/>
<circle cx="134.40" cy="472.91" r="1.80" fill="#0000ff"/>
<circle cx="151.60" cy="468.17" r="1.80" fill="#0000ff"/>
<circle cx="168.80" cy="463.65" r="1.80" fill="#0000ff"/>
<circle cx="186.00" cy="458.45" r="1.80" fill="#0000ff"/>
<circle cx="203.20" cy="450.31" r="1.80" fill="#0000ff"/>
<circle cx="220.40" cy="442.85" r="1.80" fill="#0000ff"/>
<path d="M48.40,500.94 L65.60,495.51 L82.80,489.41 L100.00,484.21 L117.20,479.01 L134.40,473.36 L151.60,468.39 L168.80,462.29 L186.00,456.41 L203.20,449.18 L220.40,440.82" fill="none" stroke="#ffff00" stroke-width="1.8" stroke-linejoin="round"/>
<circle cx="48.40" cy="500.94" r="1.80" fill="#ffff00"/>
<circle cx="65.60" cy="495.51" r="1.80" fill="#ffff00"/>
<circle cx="82.80" cy="489.41" r="1.80" fill="#ffff00"/>
<circle cx="100.00" cy="484.21" r="1.80" fill="#ffff00"/>
<circle cx="117.20" cy="479.01" r="1.80" fill="#ffff00"/>
<circle cx="134.40" cy="473.36" r="1.80" fill="#ffff00"/>
<circle cx="151.60" cy="468.39" r="1.80" fill="#ffff00"/>
<circle cx="168.80" cy="462.29" r="1.80" fill="#ffff00"/>
<circle cx="186.00" cy="456.41" r="1.80" fill="#ffff00"/>
<circle cx="203.20" cy="449.18" r="1.80" fill="#ffff00"/>
<circle cx="220.40" cy="440.82" r="1.80" fill="#ffff00"/>
<path d="M48.40,501.16 L65.60,495.51 L82.80,488.96 L100.00,483.99 L117.20,478.56 L134.40,472.91 L151.60,468.17 L168.80,459.80 L186.00,452.57 L203.20,442.85 L220.40,430.65" fill="none" stroke="#cc7a29" stroke-width="1.8" stroke-linejoin="round"/>
<line x1="48.40" y1="499.13" x2="48.40" y2="503.20" stroke="#cc7a29" stroke-width="1"/>
<line x1="46.60" y1="499.13" x2="50.20" y2="499.13" stroke="#cc7a29" stroke-width="1"/>
<line x1="46.60" y1="503.20" x2="50.20" y2="503.20" stroke="#cc7a29" stroke-width="1"/>
<circle cx="48.40" cy="501.16" r="1.80" fill="#cc7a29"/>
<line x1="65.60" y1="494.16" x2="65.60" y2="496.87" stroke="#cc7a29" stroke-width="1"/>
<line x1="63.80" y1="494.16" x2="67.40" y2="494.16" stroke="#cc7a29" stroke-width="1"/>
<line x1="63.80" y1="496.87" x2="67.40" y2="496.87" stroke="#cc7a29" stroke-width="1"/>
<circle cx="65.60" cy="495.51" r="1.80" fill="#cc7a29"/>
<circle cx="82.80" cy="488.96" r="1.80" fill="#cc7a29"/>
<circle cx="100.00" cy="483.99" r="1.80" fill="#cc7a29"/>
<circle cx="117.20" cy="478.56" r="1.80" fill="#cc7a29"/>
<circle cx="134.40" cy="472.91" r="1.80" fill="#cc7a29"/>
<circle cx="151.60" cy="468.17" r="1.80" fill="#cc7a29"/>
<circle cx="168.80" cy="459.80" r="1.80" fill="#cc7a29"/>
<circle cx="186.00" cy="452.57" r="1.80" fill="#cc7a29"/>
<line x1="203.20" y1="441.72" x2="203.20" y2="443.98" stroke="#cc7a29" stroke-width="1"/>
<line x1="201.40" y1="441.72" x2="205.00" y2="441.72" stroke="#cc7a29" stroke-width="1"/>
<line x1="201.40" y1="443.98" x2="205.00" y2="443.98" stroke="#cc7a29" stroke-width="1"/>
<circle cx="203.20" cy="442.85" r="1.80" fill="#cc7a29"/>
<line x1="220.40" y1="428.62" x2="220.40" y2="432.68" stroke="#cc7a29" stroke-width="1"/>
<line x1="218.60" y1="428.62" x2="222.20" y2="428.62" stroke="#cc7a29" stroke-width="1"/>
<line x1="218.60" y1="432.68" x2="222.20" y2="432.68" stroke="#cc7a29" stroke-width="1"/>
<circle cx="220.40" cy="430.65" r="1.80" fill="#cc7a29"/>
<path d="M48.40,501.16 L65.60,495.51 L82.80,489.41 L100.00,483.99 L117.20,478.56 L134.40,472.91 L151.60,468.17 L168.80,459.58 L186.00,451.44 L203.20,440.14 L220.40,425.23" fill="none" stroke="#1a8a1a" stroke-width="1.8" stroke-linejoin="round"/>
<circle cx="48.40" cy="501.16" r="1.80" fill="#1a8a1a"/>
<circle cx="65.60" cy="495.51" r="1.80" fill="#1a8a1a"/>
<circle cx="82.80" cy="489.41" r="1.80" fill="#1a8a1a"/>
<circle cx="100.00" cy="483.99" r="1.80" fill="#1a8a1a"/>
<circle cx="117.20" cy="478.56" r="1.80" fill="#1a8a1a"/>
<circle cx="134.40" cy="472.91" r="1.80" fill="#1a8a1a"/>
<circle cx="151.60" cy="468.17" r="1.80" fill="#1a8a1a"/>
<circle cx="168.80" cy="459.58" r="1.80" fill="#1a8a1a"/>
<circle cx="186.00" cy="451.44" r="1.80" fill="#1a8a1a"/>
<circle cx="203.20" cy="440.14" r="1.80" fill="#1a8a1a"/>
<circle cx="220.40" cy="425.23" r="1.80" fill="#1a8a1a"/>
<path d="M48.40,501.84 L65.60,495.74 L82.80,488.96 L100.00,483.99 L117.20,478.56 L134.40,472.91 L151.60,465.91 L168.80,457.77 L186.00,448.05 L203.20,435.17 L220.40,418.90" fill="none" stroke="#7418b8" stroke-width="1.8" stroke-linejoin="round"/>
<rect x="46.60" y="500.04" width="3.60" height="3.60" fill="#7418b8"/>
<rect x="63.80" y="493.94" width="3.60" height="3.60" fill="#7418b8"/>
<rect x="81.00" y="487.16" width="3.60" height="3.60" fill="#7418b8"/>
<rect x="98.20" y="482.19" width="3.60" height="3.60" fill="#7418b8"/>
<rect x="115.40" y="476.76" width="3.60" height="3.60" fill="#7418b8"/>
<rect x="132.60" y="471.11" width="3.60" height="3.60" fill="#7418b8"/>
<rect x="149.80" y="464.11" width="3.60" height="3.60" fill="#7418b8"/>
<rect x="167.00" y="455.97" width="3.60" height="3.60" fill="#7418b8"/>
<rect x="184.20" y="446.25" width="3.60" height="3.60" fill="#7418b8"/>
<rect x="201.40" y="433.37" width="3.60" height="3.60" fill="#7418b8"/>
<line x1="220.40" y1="417.54" x2="220.40" y2="420.25" stroke="#7418b8" stroke-width="1"/>
<line x1="218.60" y1="417.54" x2="222.20" y2="417.54" stroke="#7418b8" stroke-width="1"/>
<line x1="218.60" y1="420.25" x2="222.20" y2="420.25" stroke="#7418b8" stroke-width="1"/>
<rect x="218.60" y="417.10" width="3.60" height="3.60" fill="#7418b8"/>
<line x1="270.30" y1="199.00" x2="270.30" y2="311.40" stroke="#000" stroke-width="1.3"/>
<line x1="269.70" y1="310.80" x2="437.00" y2="310.80" stroke="#000" stroke-width="1.3"/>
<line x1="267.30" y1="310.80" x2="270.30" y2="310.80" stroke="#000" stroke-width="1.3"/>
<text transform="translate(266.30 313.90) scale(1 1.15)" font-size="8.3" font-weight="bold" text-anchor="end" fill="#000" stroke="#000" stroke-width="0.22">0</text>
<line x1="267.30" y1="273.70" x2="270.30" y2="273.70" stroke="#000" stroke-width="1.3"/>
<text transform="translate(266.30 276.80) scale(1 1.15)" font-size="8.3" font-weight="bold" text-anchor="end" fill="#000" stroke="#000" stroke-width="0.22">100</text>
<line x1="267.30" y1="236.60" x2="270.30" y2="236.60" stroke="#000" stroke-width="1.3"/>
<text transform="translate(266.30 239.70) scale(1 1.15)" font-size="8.3" font-weight="bold" text-anchor="end" fill="#000" stroke="#000" stroke-width="0.22">200</text>
<line x1="267.30" y1="199.50" x2="270.30" y2="199.50" stroke="#000" stroke-width="1.3"/>
<text transform="translate(266.30 202.60) scale(1 1.15)" font-size="8.3" font-weight="bold" text-anchor="end" fill="#000" stroke="#000" stroke-width="0.22">300</text>
<text transform="translate(246.40 254.80) rotate(-90)" font-size="8.1" font-weight="bold" text-anchor="middle" fill="#000" stroke="#000" stroke-width="0.22">Current at + 80 mV (pA)</text>
<rect x="276.00" y="285.94" width="11.12" height="24.86" fill="#000000"/>
<line x1="281.56" y1="285.94" x2="281.56" y2="283.72" stroke="#222" stroke-width="1.4"/>
<line x1="278.76" y1="283.72" x2="284.36" y2="283.72" stroke="#111" stroke-width="1.5"/>
<rect x="287.12" y="266.65" width="11.12" height="44.15" fill="#a4a4a7"/>
<line x1="292.68" y1="266.65" x2="292.68" y2="262.94" stroke="#222" stroke-width="1.4"/>
<line x1="289.88" y1="262.94" x2="295.48" y2="262.94" stroke="#111" stroke-width="1.5"/>
<rect x="298.24" y="226.21" width="11.12" height="84.59" fill="#868686"/>
<line x1="303.80" y1="226.21" x2="303.80" y2="221.76" stroke="#222" stroke-width="1.4"/>
<line x1="301.00" y1="221.76" x2="306.60" y2="221.76" stroke="#111" stroke-width="1.5"/>
<rect x="309.36" y="224.73" width="11.12" height="86.07" fill="#d6d6d6"/>
<line x1="314.92" y1="224.73" x2="314.92" y2="220.28" stroke="#222" stroke-width="1.4"/>
<line x1="312.12" y1="220.28" x2="317.72" y2="220.28" stroke="#111" stroke-width="1.5"/>
<line x1="298.20" y1="310.80" x2="298.20" y2="314.30" stroke="#000" stroke-width="1.3"/>
<text x="298.20" y="322.20" font-size="7.5" font-weight="bold" text-anchor="middle" fill="#000" stroke="#000" stroke-width="0.22">M325T</text>
<rect x="331.00" y="285.94" width="11.12" height="24.86" fill="#000000"/>
<line x1="336.56" y1="285.94" x2="336.56" y2="283.72" stroke="#222" stroke-width="1.4"/>
<line x1="333.76" y1="283.72" x2="339.36" y2="283.72" stroke="#111" stroke-width="1.5"/>
<rect x="342.12" y="257.38" width="11.12" height="53.42" fill="#a4a4a7"/>
<line x1="347.68" y1="257.38" x2="347.68" y2="247.36" stroke="#222" stroke-width="1.4"/>
<line x1="344.88" y1="247.36" x2="350.48" y2="247.36" stroke="#111" stroke-width="1.5"/>
<rect x="353.24" y="256.63" width="11.12" height="54.17" fill="#868686"/>
<line x1="358.80" y1="256.63" x2="358.80" y2="252.92" stroke="#222" stroke-width="1.4"/>
<line x1="356.00" y1="252.92" x2="361.60" y2="252.92" stroke="#111" stroke-width="1.5"/>
<rect x="364.36" y="224.73" width="11.12" height="86.07" fill="#d6d6d6"/>
<line x1="369.92" y1="224.73" x2="369.92" y2="220.28" stroke="#222" stroke-width="1.4"/>
<line x1="367.12" y1="220.28" x2="372.72" y2="220.28" stroke="#111" stroke-width="1.5"/>
<line x1="353.50" y1="310.80" x2="353.50" y2="314.30" stroke="#000" stroke-width="1.3"/>
<text x="353.50" y="322.20" font-size="7.5" font-weight="bold" text-anchor="middle" fill="#000" stroke="#000" stroke-width="0.22">L234V</text>
<rect x="397.62" y="272.96" width="11.12" height="37.84" fill="#a4a4a7"/>
<line x1="403.18" y1="272.96" x2="403.18" y2="267.76" stroke="#222" stroke-width="1.4"/>
<line x1="400.38" y1="267.76" x2="405.98" y2="267.76" stroke="#111" stroke-width="1.5"/>
<rect x="408.74" y="275.56" width="11.12" height="35.24" fill="#868686"/>
<line x1="414.30" y1="275.56" x2="414.30" y2="271.85" stroke="#222" stroke-width="1.4"/>
<line x1="411.50" y1="271.85" x2="417.10" y2="271.85" stroke="#111" stroke-width="1.5"/>
<rect x="419.86" y="224.73" width="11.12" height="86.07" fill="#d6d6d6"/>
<line x1="425.42" y1="224.73" x2="425.42" y2="220.28" stroke="#222" stroke-width="1.4"/>
<line x1="422.62" y1="220.28" x2="428.22" y2="220.28" stroke="#111" stroke-width="1.5"/>
<line x1="408.70" y1="310.80" x2="408.70" y2="314.30" stroke="#000" stroke-width="1.3"/>
<text x="408.70" y="322.20" font-size="7.5" font-weight="bold" text-anchor="middle" fill="#000" stroke="#000" stroke-width="0.22">R141H</text>
<path d="M282.30,217.50 V212.50 H304.40 V217.50" fill="none" stroke="#2a2a2a" stroke-width="1.15"/>
<circle cx="288.20" cy="208.30" r="1.15" fill="#111"/>
<circle cx="292.20" cy="208.30" r="1.15" fill="#111"/>
<circle cx="296.20" cy="208.30" r="1.15" fill="#111"/>
<circle cx="300.20" cy="208.30" r="1.15" fill="#111"/>
<path d="M290.30,204.70 V199.50 H302.20 V204.70" fill="none" stroke="#2a2a2a" stroke-width="1.15"/>
<circle cx="292.50" cy="196.40" r="1.15" fill="#111"/>
<circle cx="296.50" cy="196.40" r="1.15" fill="#111"/>
<circle cx="300.50" cy="196.40" r="1.15" fill="#111"/>
<path d="M303.30,191.40 V186.40 H315.20 V191.40" fill="none" stroke="#2a2a2a" stroke-width="1.15"/>
<text x="309.70" y="184.20" font-size="7.7" font-weight="normal" text-anchor="middle" fill="#1a1a1a">ns</text>
<path d="M337.80,219.00 V213.60 H360.00 V219.00" fill="none" stroke="#2a2a2a" stroke-width="1.15"/>
<circle cx="347.60" cy="210.00" r="1.15" fill="#111"/>
<circle cx="351.60" cy="210.00" r="1.15" fill="#111"/>
<path d="M346.10,206.20 V200.90 H357.60 V206.20" fill="none" stroke="#2a2a2a" stroke-width="1.15"/>
<text x="352.70" y="198.60" font-size="7.7" font-weight="normal" text-anchor="middle" fill="#1a1a1a">ns</text>
<path d="M358.80,193.20 V187.50 H370.60 V193.20" fill="none" stroke="#2a2a2a" stroke-width="1.15"/>
<circle cx="363.00" cy="184.30" r="1.15" fill="#111"/>
<circle cx="367.00" cy="184.30" r="1.15" fill="#111"/>
<path d="M404.60,207.90 V203.10 H416.30 V207.90" fill="none" stroke="#2a2a2a" stroke-width="1.15"/>
<text x="410.10" y="200.60" font-size="7.7" font-weight="normal" text-anchor="middle" fill="#1a1a1a">ns</text>
<path d="M414.40,192.40 V187.60 H426.40 V192.40" fill="none" stroke="#2a2a2a" stroke-width="1.15"/>
<circle cx="414.50" cy="183.30" r="1.15" fill="#111"/>
<circle cx="418.50" cy="183.30" r="1.15" fill="#111"/>
<circle cx="422.50" cy="183.30" r="1.15" fill="#111"/>
<circle cx="426.50" cy="183.30" r="1.15" fill="#111"/>
<rect x="461.40" y="194.30" width="12.30" height="4.00" fill="#000000"/>
<text transform="translate(480.00 199.00) scale(1 1.12)" font-size="7.8" font-weight="normal" text-anchor="start" fill="#151515">Untreated</text>
<rect x="461.40" y="207.70" width="12.30" height="4.00" fill="#a4a4a7"/>
<text transform="translate(480.00 212.40) scale(1 1.12)" font-size="7.8" font-weight="normal" text-anchor="start" fill="#151515">DMSO</text>
<rect x="461.40" y="220.90" width="12.30" height="4.00" fill="#868686"/>
<text transform="translate(480.00 225.60) scale(1 1.12)" font-size="7.8" font-weight="normal" text-anchor="start" fill="#151515">Tadalafil 25 µM</text>
<rect x="461.40" y="234.40" width="12.30" height="4.00" fill="#d6d6d6"/>
<text transform="translate(480.00 239.10) scale(1 1.12)" font-size="7.8" font-weight="normal" text-anchor="start" fill="#151515">WT</text>
<line x1="306.80" y1="343.60" x2="306.80" y2="468.00" stroke="#000" stroke-width="1.3"/>
<line x1="306.20" y1="467.40" x2="428.00" y2="467.40" stroke="#000" stroke-width="1.3"/>
<line x1="303.30" y1="467.40" x2="306.80" y2="467.40" stroke="#000" stroke-width="1.3"/>
<text transform="translate(301.50 470.90) scale(1 1.05)" font-size="9.5" font-weight="bold" text-anchor="end" fill="#000" stroke="#000" stroke-width="0.22">0</text>
<line x1="303.30" y1="418.40" x2="306.80" y2="418.40" stroke="#000" stroke-width="1.3"/>
<text transform="translate(301.50 421.90) scale(1 1.05)" font-size="9.5" font-weight="bold" text-anchor="end" fill="#000" stroke="#000" stroke-width="0.22">100</text>
<line x1="303.30" y1="369.40" x2="306.80" y2="369.40" stroke="#000" stroke-width="1.3"/>
<text transform="translate(301.50 372.90) scale(1 1.05)" font-size="9.5" font-weight="bold" text-anchor="end" fill="#000" stroke="#000" stroke-width="0.22">200</text>
<text transform="translate(279.60 405.00) rotate(-90)" font-size="9" font-weight="bold" text-anchor="middle" fill="#000" stroke="#000" stroke-width="0.22">Current at + 80 mV (pA)</text>
<rect x="313.70" y="356.18" width="11.60" height="111.22" fill="#000000" stroke="#111" stroke-width="1"/>
<line x1="319.50" y1="355.68" x2="319.50" y2="348.33" stroke="#111" stroke-width="1.2"/>
<line x1="316.20" y1="348.33" x2="322.80" y2="348.33" stroke="#111" stroke-width="1.2"/>
<line x1="319.50" y1="467.40" x2="319.50" y2="471.40" stroke="#000" stroke-width="1.3"/>
<text transform="translate(322.80 479.20) rotate(-45) scale(1 1.25)" font-size="8.2" font-weight="bold" text-anchor="end" fill="#000" stroke="#000" stroke-width="0.22">25 µM tadalafil (n = 8)</text>
<rect x="332.75" y="371.86" width="11.60" height="95.54" fill="#383838" stroke="#111" stroke-width="1"/>
<line x1="338.55" y1="371.36" x2="338.55" y2="360.58" stroke="#111" stroke-width="1.2"/>
<line x1="335.25" y1="360.58" x2="341.85" y2="360.58" stroke="#111" stroke-width="1.2"/>
<line x1="338.55" y1="467.40" x2="338.55" y2="471.40" stroke="#000" stroke-width="1.3"/>
<text transform="translate(341.85 479.20) rotate(-45) scale(1 1.25)" font-size="8.2" font-weight="bold" text-anchor="end" fill="#000" stroke="#000" stroke-width="0.22">20 µM tadalafil (n = 5)</text>
<rect x="351.80" y="382.15" width="11.60" height="85.25" fill="#6a6a6a" stroke="#111" stroke-width="1"/>
<line x1="357.60" y1="381.65" x2="357.60" y2="370.87" stroke="#111" stroke-width="1.2"/>
<line x1="354.30" y1="370.87" x2="360.90" y2="370.87" stroke="#111" stroke-width="1.2"/>
<line x1="357.60" y1="467.40" x2="357.60" y2="471.40" stroke="#000" stroke-width="1.3"/>
<text transform="translate(360.90 479.20) rotate(-45) scale(1 1.25)" font-size="8.2" font-weight="bold" text-anchor="end" fill="#000" stroke="#000" stroke-width="0.22">15 µM tadalafil (n = 6)</text>
<rect x="370.85" y="404.69" width="11.60" height="62.71" fill="#8a8a8a" stroke="#111" stroke-width="1"/>
<line x1="376.65" y1="404.19" x2="376.65" y2="398.31" stroke="#111" stroke-width="1.2"/>
<line x1="373.35" y1="398.31" x2="379.95" y2="398.31" stroke="#111" stroke-width="1.2"/>
<line x1="376.65" y1="467.40" x2="376.65" y2="471.40" stroke="#000" stroke-width="1.3"/>
<text transform="translate(379.95 479.20) rotate(-45) scale(1 1.25)" font-size="8.2" font-weight="bold" text-anchor="end" fill="#000" stroke="#000" stroke-width="0.22">10 µM tadalafil (n = 7)</text>
<rect x="389.90" y="405.67" width="11.60" height="61.73" fill="#a4a4a7" stroke="#111" stroke-width="1"/>
<line x1="395.70" y1="405.17" x2="395.70" y2="398.80" stroke="#111" stroke-width="1.2"/>
<line x1="392.40" y1="398.80" x2="399.00" y2="398.80" stroke="#111" stroke-width="1.2"/>
<line x1="395.70" y1="467.40" x2="395.70" y2="471.40" stroke="#000" stroke-width="1.3"/>
<text transform="translate(399.00 479.20) rotate(-45) scale(1 1.25)" font-size="8.2" font-weight="bold" text-anchor="end" fill="#000" stroke="#000" stroke-width="0.22">5 µM tadalafil (n = 6)</text>
<rect x="408.95" y="409.59" width="11.60" height="57.81" fill="#d4d4d4" stroke="#111" stroke-width="1"/>
<line x1="414.75" y1="409.09" x2="414.75" y2="403.70" stroke="#111" stroke-width="1.2"/>
<line x1="411.45" y1="403.70" x2="418.05" y2="403.70" stroke="#111" stroke-width="1.2"/>
<line x1="414.75" y1="467.40" x2="414.75" y2="471.40" stroke="#000" stroke-width="1.3"/>
<text transform="translate(418.05 479.20) rotate(-45) scale(1 1.25)" font-size="8.2" font-weight="bold" text-anchor="end" fill="#000" stroke="#000" stroke-width="0.22">DMSO (n = 5)</text>
<line x1="319.00" y1="337.20" x2="416.50" y2="337.20" stroke="#444" stroke-width="1.3"/>
<circle cx="362.80" cy="330.50" r="1.3" fill="#111"/>
<circle cx="367.20" cy="330.50" r="1.3" fill="#111"/>
<circle cx="371.60" cy="330.50" r="1.3" fill="#111"/>
<circle cx="376.00" cy="330.50" r="1.3" fill="#111"/>
<line x1="339.00" y1="350.90" x2="416.50" y2="350.90" stroke="#666" stroke-width="1.6"/>
<circle cx="376.40" cy="345.70" r="1.3" fill="#111"/>
<line x1="358.00" y1="363.00" x2="416.50" y2="363.00" stroke="#555" stroke-width="1.5"/>
<text x="384.90" y="360.80" font-size="8.3" font-weight="normal" text-anchor="middle" fill="#1a1a1a">ns</text>
<line x1="376.50" y1="376.70" x2="416.50" y2="376.70" stroke="#555" stroke-width="1.5"/>
<text x="396.20" y="374.20" font-size="8.3" font-weight="normal" text-anchor="middle" fill="#1a1a1a">ns</text>
<line x1="394.90" y1="387.20" x2="416.50" y2="387.20" stroke="#555" stroke-width="1.5"/>
<text x="405.50" y="385.20" font-size="8.3" font-weight="normal" text-anchor="middle" fill="#1a1a1a">ns</text>
</svg></body></html>
